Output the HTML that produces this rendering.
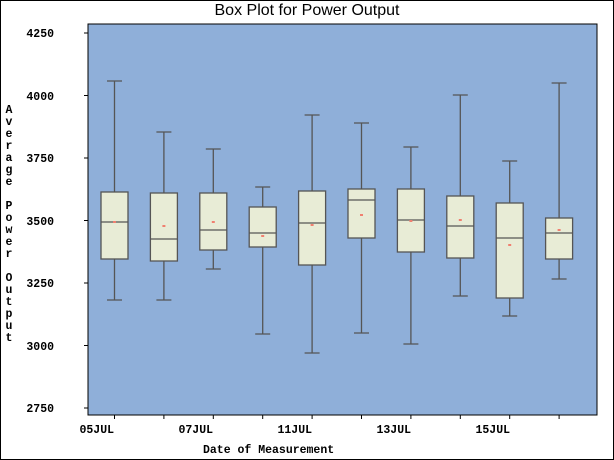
<!DOCTYPE html>
<html><head><meta charset="utf-8"><style>
body{margin:0;background:#fff}
svg{display:block}
text{font-family:"Liberation Mono",monospace;font-size:11.5px;font-weight:bold;fill:#000}
.w{stroke:#555;stroke-width:1.3;fill:none}
.b{stroke:#555;stroke-width:1.3;fill:#e8ecd6}
.m{fill:#f08070}
</style></head><body>
<svg width="614" height="460" viewBox="0 0 614 460">
<rect x="0.5" y="0.5" width="613" height="459" fill="#fff" stroke="#000"/>
<text x="307" y="15" text-anchor="middle" style="font-family:'Liberation Sans',sans-serif;font-size:16px;font-weight:normal">Box Plot for Power Output</text>
<rect x="88" y="24" width="509" height="391" fill="#8fafd9" stroke="#000" stroke-width="1"/>
<g stroke="#000">
<line x1="84" y1="33" x2="88" y2="33"/><line x1="84" y1="95.5" x2="88" y2="95.5"/>
<line x1="84" y1="158" x2="88" y2="158"/><line x1="84" y1="220.5" x2="88" y2="220.5"/>
<line x1="84" y1="283" x2="88" y2="283"/><line x1="84" y1="345.5" x2="88" y2="345.5"/>
<line x1="84" y1="408" x2="88" y2="408"/>
<line x1="114.5" y1="415" x2="114.5" y2="419"/><line x1="163.9" y1="415" x2="163.9" y2="419"/>
<line x1="213.3" y1="415" x2="213.3" y2="419"/><line x1="262.7" y1="415" x2="262.7" y2="419"/>
<line x1="312.1" y1="415" x2="312.1" y2="419"/><line x1="361.5" y1="415" x2="361.5" y2="419"/>
<line x1="410.9" y1="415" x2="410.9" y2="419"/><line x1="460.3" y1="415" x2="460.3" y2="419"/>
<line x1="509.7" y1="415" x2="509.7" y2="419"/><line x1="559.1" y1="415" x2="559.1" y2="419"/>
</g>
<g text-anchor="end">
<text x="54" y="37">4250</text><text x="54" y="100">4000</text><text x="54" y="162">3750</text>
<text x="54" y="225">3500</text><text x="54" y="287">3250</text><text x="54" y="350">3000</text><text x="54" y="412">2750</text>
</g>
<g text-anchor="middle">
<text x="9" y="113">A</text><text x="9" y="125">v</text><text x="9" y="137">e</text><text x="9" y="149">r</text><text x="9" y="161">a</text><text x="9" y="173">g</text><text x="9" y="185">e</text>
<text x="9" y="209">P</text><text x="9" y="221">o</text><text x="9" y="233">w</text><text x="9" y="245">e</text><text x="9" y="257">r</text>
<text x="9" y="281">O</text><text x="9" y="293">u</text><text x="9" y="305">t</text><text x="9" y="317">p</text><text x="9" y="329">u</text><text x="9" y="341">t</text>
</g>

<path class="w" d="M114.5 81V300M107 81H122M107 300H122"/><rect class="b" x="101" y="192" width="27" height="67"/><path class="w" d="M101 222H128"/><rect class="m" x="113" y="221" width="3" height="2"/>
<path class="w" d="M163.9 132V300M156.4 132H171.4M156.4 300H171.4"/><rect class="b" x="150.4" y="193" width="27" height="68"/><path class="w" d="M150.4 239H177.4"/><rect class="m" x="162.4" y="225" width="3" height="2"/>
<path class="w" d="M213.3 149V269M205.8 149H220.8M205.8 269H220.8"/><rect class="b" x="199.8" y="193" width="27" height="57"/><path class="w" d="M199.8 230H226.8"/><rect class="m" x="211.8" y="221" width="3" height="2"/>
<path class="w" d="M262.7 187V334M255.2 187H270.2M255.2 334H270.2"/><rect class="b" x="249.2" y="207" width="27" height="40"/><path class="w" d="M249.2 233H276.2"/><rect class="m" x="261.2" y="235" width="3" height="2"/>
<path class="w" d="M312.1 115V353M304.6 115H319.6M304.6 353H319.6"/><rect class="b" x="298.6" y="191" width="27" height="74"/><path class="w" d="M298.6 223H325.6"/><rect class="m" x="310.6" y="224" width="3" height="2"/>
<path class="w" d="M361.5 123V333M354 123H369M354 333H369"/><rect class="b" x="348" y="189" width="27" height="49"/><path class="w" d="M348 200H375"/><rect class="m" x="360" y="214" width="3" height="2"/>
<path class="w" d="M410.9 147V344M403.4 147H418.4M403.4 344H418.4"/><rect class="b" x="397.4" y="189" width="27" height="63"/><path class="w" d="M397.4 220H424.4"/><rect class="m" x="409.4" y="220" width="3" height="2"/>
<path class="w" d="M460.3 95V296M452.8 95H467.8M452.8 296H467.8"/><rect class="b" x="446.8" y="196" width="27" height="62"/><path class="w" d="M446.8 226H473.8"/><rect class="m" x="458.8" y="219" width="3" height="2"/>
<path class="w" d="M509.7 161V316M502.2 161H517.2M502.2 316H517.2"/><rect class="b" x="496.2" y="203" width="27" height="95"/><path class="w" d="M496.2 238H523.2"/><rect class="m" x="508.2" y="244" width="3" height="2"/>
<path class="w" d="M559.1 83V279M551.6 83H566.6M551.6 279H566.6"/><rect class="b" x="545.6" y="218" width="27" height="41"/><path class="w" d="M545.6 233H572.6"/><rect class="m" x="557.6" y="229" width="3" height="2"/>

<g text-anchor="end">
<text x="114" y="433">05JUL</text><text x="213" y="433">07JUL</text><text x="312" y="433">11JUL</text><text x="411" y="433">13JUL</text><text x="510" y="433">15JUL</text>
</g>
<text x="203" y="453">Date of Measurement</text>
</svg>
</body></html>
